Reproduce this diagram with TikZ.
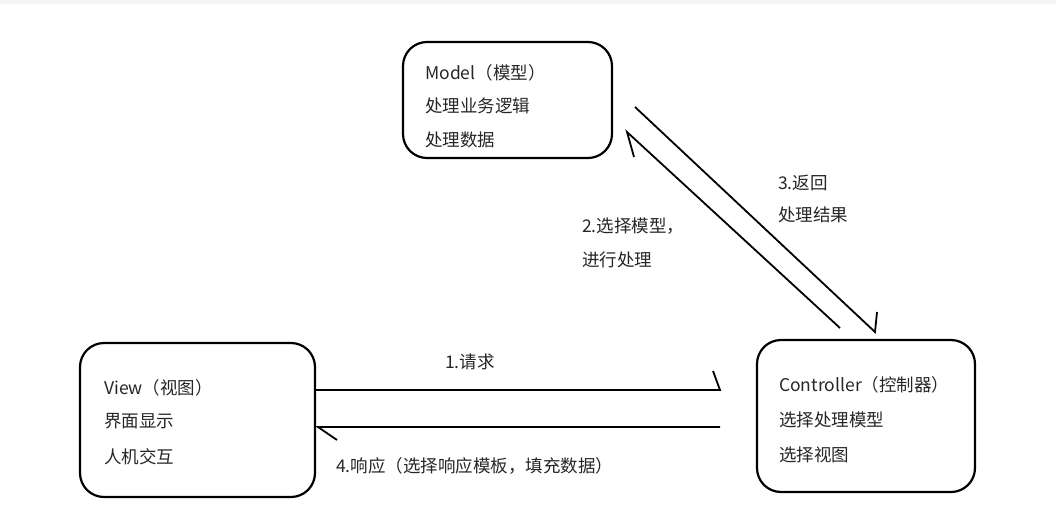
\documentclass[tikz,border=0pt]{standalone}
\usepackage{fontspec}
\setmainfont{Noto Sans CJK SC}
\begin{document}
\begin{tikzpicture}[x=1pt,y=-1pt,
  box/.style={draw,line width=2.2pt,rounded corners=24pt},
  ln/.style={line width=1.8pt},
  txt/.style={anchor=west,inner sep=0pt,font=\fontsize{17.5}{21}\selectfont,text=black!85}]
\useasboundingbox (0,0) rectangle (1056,527);
\fill[black!4] (0,0) rectangle (1056,4);
\draw[box] (403,42) rectangle (612,158);
\draw[box] (80,343) rectangle (315,497);
\draw[box] (757,340) rectangle (975,492);
\node[txt] (m1) at (425,73) {Model（模型）};
\node[txt] (m2) at (425,106) {处理业务逻辑};
\node[txt] (m3) at (425,140) {处理数据};
\node[txt] (v1) at (104,388) {View（视图）};
\node[txt] (v2) at (104,421) {界面显示};
\node[txt] (v3) at (104,457) {人机交互};
\node[txt] (c1) at (779,385) {Controller（控制器）};
\node[txt] (c2) at (779,420) {选择处理模型};
\node[txt] (c3) at (779,455) {选择视图};
\node[txt] (l1) at (445,362) {1.请求};
\node[txt] (l4) at (336,466) {4.响应（选择响应模板，填充数据）};
\node[txt] (l2a) at (582,226) {2.选择模型，};
\node[txt] (l2b) at (582,260) {进行处理};
\node[txt] (l3a) at (778,183) {3.返回};
\node[txt] (l3b) at (778,215) {处理结果};
\coordinate (a1s) at (315,390); \coordinate (a1e) at (720,390);
\draw[ln] (a1s) -- (a1e) -- (713,371);
\coordinate (a4s) at (720,427); \coordinate (a4e) at (318,427);
\draw[ln] (a4s) -- (a4e) -- (337,440);
\coordinate (a3s) at (635,107); \coordinate (a3e) at (875,332);
\draw[ln] (a3s) -- (a3e) -- (877,312);
\coordinate (a2s) at (840,328); \coordinate (a2e) at (627,132);
\draw[ln] (a2s) -- (a2e) -- (634,157);
\end{tikzpicture}
\end{document}
